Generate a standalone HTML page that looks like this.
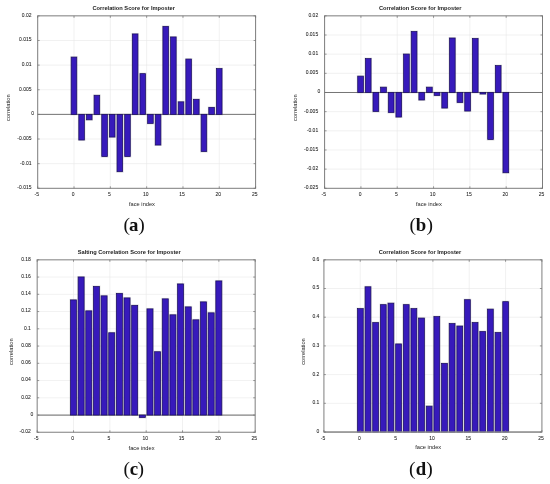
<!DOCTYPE html>
<html><head><meta charset="utf-8"><title>Correlation Score for Imposter</title>
<style>
html,body{margin:0;padding:0;background:#fff;}
svg{display:block}
.gr{stroke:#e8e8e8;stroke-width:0.6}
.bar{fill:#371abb;stroke:#170b5c;stroke-width:0.7}
.halo{fill:none;stroke:#777;stroke-opacity:0.25;stroke-width:1.9}
.zl{stroke:#666;stroke-width:0.9}
.box{fill:none;stroke:#7c7c7c;stroke-width:1}
.box.lt{stroke:#989898;stroke-width:1.25}
.zl.lt{stroke:#868686;stroke-width:1.25}
.tk{stroke:#707070;stroke-width:0.7}
text{font-family:"Liberation Sans",sans-serif;fill:#333}
.tl{font-size:5px;fill:#222;stroke:#222;stroke-width:0.06px}
.al{font-size:5.7px;fill:#222}
.tt{font-size:5.7px;font-weight:bold;fill:#222}
.cap{font-family:"Liberation Serif",serif;font-size:19.5px;fill:#111}
.cb{font-weight:bold;font-size:18.8px}
</style></head><body>
<svg width="550" height="484" viewBox="0 0 550 484">
<rect width="550" height="484" fill="#fff"/>
<g><line x1="74.02" y1="15.85" x2="74.02" y2="188.3" class="gr"/>
<line x1="110.33" y1="15.85" x2="110.33" y2="188.3" class="gr"/>
<line x1="146.65" y1="15.85" x2="146.65" y2="188.3" class="gr"/>
<line x1="182.97" y1="15.85" x2="182.97" y2="188.3" class="gr"/>
<line x1="219.28" y1="15.85" x2="219.28" y2="188.3" class="gr"/>
<line x1="37.7" y1="40.49" x2="255.6" y2="40.49" class="gr"/>
<line x1="37.7" y1="65.12" x2="255.6" y2="65.12" class="gr"/>
<line x1="37.7" y1="89.76" x2="255.6" y2="89.76" class="gr"/>
<line x1="37.7" y1="114.39" x2="255.6" y2="114.39" class="gr"/>
<line x1="37.7" y1="139.03" x2="255.6" y2="139.03" class="gr"/>
<line x1="37.7" y1="163.66" x2="255.6" y2="163.66" class="gr"/>
<rect x="71.17" y="57.10" width="5.60" height="57.30" class="halo"/>
<rect x="78.81" y="114.39" width="5.60" height="25.62" class="halo"/>
<rect x="86.46" y="114.39" width="5.60" height="5.42" class="halo"/>
<rect x="94.10" y="95.28" width="5.60" height="19.11" class="halo"/>
<rect x="101.75" y="114.39" width="5.60" height="42.23" class="halo"/>
<rect x="109.39" y="114.39" width="5.60" height="22.66" class="halo"/>
<rect x="117.04" y="114.39" width="5.60" height="57.30" class="halo"/>
<rect x="124.69" y="114.39" width="5.60" height="42.23" class="halo"/>
<rect x="132.33" y="33.94" width="5.60" height="80.45" class="halo"/>
<rect x="139.98" y="73.65" width="5.60" height="40.74" class="halo"/>
<rect x="147.62" y="114.39" width="5.60" height="9.07" class="halo"/>
<rect x="155.27" y="114.39" width="5.60" height="30.65" class="halo"/>
<rect x="162.91" y="26.40" width="5.60" height="87.99" class="halo"/>
<rect x="170.56" y="36.95" width="5.60" height="77.45" class="halo"/>
<rect x="178.21" y="101.84" width="5.60" height="12.56" class="halo"/>
<rect x="185.85" y="59.07" width="5.60" height="55.32" class="halo"/>
<rect x="193.50" y="99.32" width="5.60" height="15.07" class="halo"/>
<rect x="201.14" y="114.39" width="5.60" height="37.20" class="halo"/>
<rect x="208.79" y="107.35" width="5.60" height="7.04" class="halo"/>
<rect x="216.43" y="68.63" width="5.60" height="45.77" class="halo"/>
<line x1="37.7" y1="114.39" x2="255.6" y2="114.39" class="zl "/>
<rect x="71.17" y="57.10" width="5.60" height="57.30" class="bar"/>
<rect x="78.81" y="114.39" width="5.60" height="25.62" class="bar"/>
<rect x="86.46" y="114.39" width="5.60" height="5.42" class="bar"/>
<rect x="94.10" y="95.28" width="5.60" height="19.11" class="bar"/>
<rect x="101.75" y="114.39" width="5.60" height="42.23" class="bar"/>
<rect x="109.39" y="114.39" width="5.60" height="22.66" class="bar"/>
<rect x="117.04" y="114.39" width="5.60" height="57.30" class="bar"/>
<rect x="124.69" y="114.39" width="5.60" height="42.23" class="bar"/>
<rect x="132.33" y="33.94" width="5.60" height="80.45" class="bar"/>
<rect x="139.98" y="73.65" width="5.60" height="40.74" class="bar"/>
<rect x="147.62" y="114.39" width="5.60" height="9.07" class="bar"/>
<rect x="155.27" y="114.39" width="5.60" height="30.65" class="bar"/>
<rect x="162.91" y="26.40" width="5.60" height="87.99" class="bar"/>
<rect x="170.56" y="36.95" width="5.60" height="77.45" class="bar"/>
<rect x="178.21" y="101.84" width="5.60" height="12.56" class="bar"/>
<rect x="185.85" y="59.07" width="5.60" height="55.32" class="bar"/>
<rect x="193.50" y="99.32" width="5.60" height="15.07" class="bar"/>
<rect x="201.14" y="114.39" width="5.60" height="37.20" class="bar"/>
<rect x="208.79" y="107.35" width="5.60" height="7.04" class="bar"/>
<rect x="216.43" y="68.63" width="5.60" height="45.77" class="bar"/>
<rect x="37.7" y="15.85" width="217.90" height="172.45" class="box "/>
<line x1="37.70" y1="188.3" x2="37.70" y2="186.3" class="tk"/>
<line x1="37.70" y1="15.85" x2="37.70" y2="17.85" class="tk"/>
<text x="36.80" y="195.90" class="tl" text-anchor="middle">-5</text>
<line x1="74.02" y1="188.3" x2="74.02" y2="186.3" class="tk"/>
<line x1="74.02" y1="15.85" x2="74.02" y2="17.85" class="tk"/>
<text x="73.12" y="195.90" class="tl" text-anchor="middle">0</text>
<line x1="110.33" y1="188.3" x2="110.33" y2="186.3" class="tk"/>
<line x1="110.33" y1="15.85" x2="110.33" y2="17.85" class="tk"/>
<text x="109.43" y="195.90" class="tl" text-anchor="middle">5</text>
<line x1="146.65" y1="188.3" x2="146.65" y2="186.3" class="tk"/>
<line x1="146.65" y1="15.85" x2="146.65" y2="17.85" class="tk"/>
<text x="145.75" y="195.90" class="tl" text-anchor="middle">10</text>
<line x1="182.97" y1="188.3" x2="182.97" y2="186.3" class="tk"/>
<line x1="182.97" y1="15.85" x2="182.97" y2="17.85" class="tk"/>
<text x="182.07" y="195.90" class="tl" text-anchor="middle">15</text>
<line x1="219.28" y1="188.3" x2="219.28" y2="186.3" class="tk"/>
<line x1="219.28" y1="15.85" x2="219.28" y2="17.85" class="tk"/>
<text x="218.38" y="195.90" class="tl" text-anchor="middle">20</text>
<line x1="255.60" y1="188.3" x2="255.60" y2="186.3" class="tk"/>
<line x1="255.60" y1="15.85" x2="255.60" y2="17.85" class="tk"/>
<text x="254.70" y="195.90" class="tl" text-anchor="middle">25</text>
<line x1="37.7" y1="15.85" x2="39.7" y2="15.85" class="tk"/>
<line x1="255.6" y1="15.85" x2="253.6" y2="15.85" class="tk"/>
<text x="31.50" y="16.75" class="tl" text-anchor="end">0.02</text>
<line x1="37.7" y1="40.49" x2="39.7" y2="40.49" class="tk"/>
<line x1="255.6" y1="40.49" x2="253.6" y2="40.49" class="tk"/>
<text x="31.50" y="41.39" class="tl" text-anchor="end">0.015</text>
<line x1="37.7" y1="65.12" x2="39.7" y2="65.12" class="tk"/>
<line x1="255.6" y1="65.12" x2="253.6" y2="65.12" class="tk"/>
<text x="31.50" y="66.02" class="tl" text-anchor="end">0.01</text>
<line x1="37.7" y1="89.76" x2="39.7" y2="89.76" class="tk"/>
<line x1="255.6" y1="89.76" x2="253.6" y2="89.76" class="tk"/>
<text x="31.50" y="90.66" class="tl" text-anchor="end">0.005</text>
<line x1="37.7" y1="114.39" x2="39.7" y2="114.39" class="tk"/>
<line x1="255.6" y1="114.39" x2="253.6" y2="114.39" class="tk"/>
<text x="34.10" y="115.29" class="tl" text-anchor="end">0</text>
<line x1="37.7" y1="139.03" x2="39.7" y2="139.03" class="tk"/>
<line x1="255.6" y1="139.03" x2="253.6" y2="139.03" class="tk"/>
<text x="31.50" y="139.93" class="tl" text-anchor="end">-0.005</text>
<line x1="37.7" y1="163.66" x2="39.7" y2="163.66" class="tk"/>
<line x1="255.6" y1="163.66" x2="253.6" y2="163.66" class="tk"/>
<text x="31.50" y="164.56" class="tl" text-anchor="end">-0.01</text>
<line x1="37.7" y1="188.30" x2="39.7" y2="188.30" class="tk"/>
<line x1="255.6" y1="188.30" x2="253.6" y2="188.30" class="tk"/>
<text x="31.50" y="189.20" class="tl" text-anchor="end">-0.015</text>
<text x="133.7" y="9.95" class="tt" text-anchor="middle">Correlation Score for Imposter</text>
<text x="142.00" y="205.70" class="al" text-anchor="middle">face index</text>
<text transform="translate(9.70,107.67) rotate(-90)" class="al" text-anchor="middle">correlation</text>
<text y="230.80" class="cap"><tspan x="123.40">(</tspan><tspan class="cb" x="133.65" text-anchor="middle">a</tspan><tspan x="144.80" text-anchor="end">)</tspan></text></g>
<g><line x1="360.92" y1="15.85" x2="360.92" y2="188.3" class="gr"/>
<line x1="397.23" y1="15.85" x2="397.23" y2="188.3" class="gr"/>
<line x1="433.55" y1="15.85" x2="433.55" y2="188.3" class="gr"/>
<line x1="469.87" y1="15.85" x2="469.87" y2="188.3" class="gr"/>
<line x1="506.18" y1="15.85" x2="506.18" y2="188.3" class="gr"/>
<line x1="324.6" y1="35.01" x2="542.5" y2="35.01" class="gr"/>
<line x1="324.6" y1="54.17" x2="542.5" y2="54.17" class="gr"/>
<line x1="324.6" y1="73.33" x2="542.5" y2="73.33" class="gr"/>
<line x1="324.6" y1="92.49" x2="542.5" y2="92.49" class="gr"/>
<line x1="324.6" y1="111.66" x2="542.5" y2="111.66" class="gr"/>
<line x1="324.6" y1="130.82" x2="542.5" y2="130.82" class="gr"/>
<line x1="324.6" y1="149.98" x2="542.5" y2="149.98" class="gr"/>
<line x1="324.6" y1="169.14" x2="542.5" y2="169.14" class="gr"/>
<rect x="357.72" y="76.14" width="5.70" height="16.36" class="halo"/>
<rect x="365.36" y="58.59" width="5.70" height="33.91" class="halo"/>
<rect x="373.01" y="92.49" width="5.70" height="19.05" class="halo"/>
<rect x="380.65" y="87.18" width="5.70" height="5.32" class="halo"/>
<rect x="388.30" y="92.49" width="5.70" height="20.08" class="halo"/>
<rect x="395.94" y="92.49" width="5.70" height="24.56" class="halo"/>
<rect x="403.59" y="54.07" width="5.70" height="38.43" class="halo"/>
<rect x="411.24" y="31.49" width="5.70" height="61.00" class="halo"/>
<rect x="418.88" y="92.49" width="5.70" height="7.51" class="halo"/>
<rect x="426.53" y="87.18" width="5.70" height="5.32" class="halo"/>
<rect x="434.17" y="92.49" width="5.70" height="3.03" class="halo"/>
<rect x="441.82" y="92.49" width="5.70" height="15.56" class="halo"/>
<rect x="449.46" y="38.01" width="5.70" height="54.49" class="halo"/>
<rect x="457.11" y="92.49" width="5.70" height="10.04" class="halo"/>
<rect x="464.76" y="92.49" width="5.70" height="18.55" class="halo"/>
<rect x="472.40" y="38.51" width="5.70" height="53.99" class="halo"/>
<rect x="480.05" y="92.49" width="5.70" height="1.53" class="halo"/>
<rect x="487.69" y="92.49" width="5.70" height="47.14" class="halo"/>
<rect x="495.34" y="65.60" width="5.70" height="26.89" class="halo"/>
<rect x="502.98" y="92.49" width="5.70" height="80.25" class="halo"/>
<line x1="324.6" y1="92.49" x2="542.5" y2="92.49" class="zl "/>
<rect x="357.72" y="76.14" width="5.70" height="16.36" class="bar"/>
<rect x="365.36" y="58.59" width="5.70" height="33.91" class="bar"/>
<rect x="373.01" y="92.49" width="5.70" height="19.05" class="bar"/>
<rect x="380.65" y="87.18" width="5.70" height="5.32" class="bar"/>
<rect x="388.30" y="92.49" width="5.70" height="20.08" class="bar"/>
<rect x="395.94" y="92.49" width="5.70" height="24.56" class="bar"/>
<rect x="403.59" y="54.07" width="5.70" height="38.43" class="bar"/>
<rect x="411.24" y="31.49" width="5.70" height="61.00" class="bar"/>
<rect x="418.88" y="92.49" width="5.70" height="7.51" class="bar"/>
<rect x="426.53" y="87.18" width="5.70" height="5.32" class="bar"/>
<rect x="434.17" y="92.49" width="5.70" height="3.03" class="bar"/>
<rect x="441.82" y="92.49" width="5.70" height="15.56" class="bar"/>
<rect x="449.46" y="38.01" width="5.70" height="54.49" class="bar"/>
<rect x="457.11" y="92.49" width="5.70" height="10.04" class="bar"/>
<rect x="464.76" y="92.49" width="5.70" height="18.55" class="bar"/>
<rect x="472.40" y="38.51" width="5.70" height="53.99" class="bar"/>
<rect x="480.05" y="92.49" width="5.70" height="1.53" class="bar"/>
<rect x="487.69" y="92.49" width="5.70" height="47.14" class="bar"/>
<rect x="495.34" y="65.60" width="5.70" height="26.89" class="bar"/>
<rect x="502.98" y="92.49" width="5.70" height="80.25" class="bar"/>
<rect x="324.6" y="15.85" width="217.90" height="172.45" class="box "/>
<line x1="324.60" y1="188.3" x2="324.60" y2="186.3" class="tk"/>
<line x1="324.60" y1="15.85" x2="324.60" y2="17.85" class="tk"/>
<text x="323.70" y="195.90" class="tl" text-anchor="middle">-5</text>
<line x1="360.92" y1="188.3" x2="360.92" y2="186.3" class="tk"/>
<line x1="360.92" y1="15.85" x2="360.92" y2="17.85" class="tk"/>
<text x="360.02" y="195.90" class="tl" text-anchor="middle">0</text>
<line x1="397.23" y1="188.3" x2="397.23" y2="186.3" class="tk"/>
<line x1="397.23" y1="15.85" x2="397.23" y2="17.85" class="tk"/>
<text x="396.33" y="195.90" class="tl" text-anchor="middle">5</text>
<line x1="433.55" y1="188.3" x2="433.55" y2="186.3" class="tk"/>
<line x1="433.55" y1="15.85" x2="433.55" y2="17.85" class="tk"/>
<text x="432.65" y="195.90" class="tl" text-anchor="middle">10</text>
<line x1="469.87" y1="188.3" x2="469.87" y2="186.3" class="tk"/>
<line x1="469.87" y1="15.85" x2="469.87" y2="17.85" class="tk"/>
<text x="468.97" y="195.90" class="tl" text-anchor="middle">15</text>
<line x1="506.18" y1="188.3" x2="506.18" y2="186.3" class="tk"/>
<line x1="506.18" y1="15.85" x2="506.18" y2="17.85" class="tk"/>
<text x="505.28" y="195.90" class="tl" text-anchor="middle">20</text>
<line x1="542.50" y1="188.3" x2="542.50" y2="186.3" class="tk"/>
<line x1="542.50" y1="15.85" x2="542.50" y2="17.85" class="tk"/>
<text x="541.60" y="195.90" class="tl" text-anchor="middle">25</text>
<line x1="324.6" y1="15.85" x2="326.6" y2="15.85" class="tk"/>
<line x1="542.5" y1="15.85" x2="540.5" y2="15.85" class="tk"/>
<text x="318.20" y="16.75" class="tl" text-anchor="end">0.02</text>
<line x1="324.6" y1="35.01" x2="326.6" y2="35.01" class="tk"/>
<line x1="542.5" y1="35.01" x2="540.5" y2="35.01" class="tk"/>
<text x="318.20" y="35.91" class="tl" text-anchor="end">0.015</text>
<line x1="324.6" y1="54.17" x2="326.6" y2="54.17" class="tk"/>
<line x1="542.5" y1="54.17" x2="540.5" y2="54.17" class="tk"/>
<text x="318.20" y="55.07" class="tl" text-anchor="end">0.01</text>
<line x1="324.6" y1="73.33" x2="326.6" y2="73.33" class="tk"/>
<line x1="542.5" y1="73.33" x2="540.5" y2="73.33" class="tk"/>
<text x="318.20" y="74.23" class="tl" text-anchor="end">0.005</text>
<line x1="324.6" y1="92.49" x2="326.6" y2="92.49" class="tk"/>
<line x1="542.5" y1="92.49" x2="540.5" y2="92.49" class="tk"/>
<text x="320.40" y="93.39" class="tl" text-anchor="end">0</text>
<line x1="324.6" y1="111.66" x2="326.6" y2="111.66" class="tk"/>
<line x1="542.5" y1="111.66" x2="540.5" y2="111.66" class="tk"/>
<text x="318.20" y="112.56" class="tl" text-anchor="end">-0.005</text>
<line x1="324.6" y1="130.82" x2="326.6" y2="130.82" class="tk"/>
<line x1="542.5" y1="130.82" x2="540.5" y2="130.82" class="tk"/>
<text x="318.20" y="131.72" class="tl" text-anchor="end">-0.01</text>
<line x1="324.6" y1="149.98" x2="326.6" y2="149.98" class="tk"/>
<line x1="542.5" y1="149.98" x2="540.5" y2="149.98" class="tk"/>
<text x="318.20" y="150.88" class="tl" text-anchor="end">-0.015</text>
<line x1="324.6" y1="169.14" x2="326.6" y2="169.14" class="tk"/>
<line x1="542.5" y1="169.14" x2="540.5" y2="169.14" class="tk"/>
<text x="318.20" y="170.04" class="tl" text-anchor="end">-0.02</text>
<line x1="324.6" y1="188.30" x2="326.6" y2="188.30" class="tk"/>
<line x1="542.5" y1="188.30" x2="540.5" y2="188.30" class="tk"/>
<text x="318.20" y="189.20" class="tl" text-anchor="end">-0.025</text>
<text x="420.2" y="9.95" class="tt" text-anchor="middle">Correlation Score for Imposter</text>
<text x="428.90" y="205.70" class="al" text-anchor="middle">face index</text>
<text transform="translate(296.60,107.67) rotate(-90)" class="al" text-anchor="middle">correlation</text>
<text y="230.80" class="cap"><tspan x="409.40">(</tspan><tspan class="cb" x="421.00" text-anchor="middle">b</tspan><tspan x="432.90" text-anchor="end">)</tspan></text></g>
<g><line x1="73.53" y1="259.8" x2="73.53" y2="432.3" class="gr"/>
<line x1="109.87" y1="259.8" x2="109.87" y2="432.3" class="gr"/>
<line x1="146.20" y1="259.8" x2="146.20" y2="432.3" class="gr"/>
<line x1="182.53" y1="259.8" x2="182.53" y2="432.3" class="gr"/>
<line x1="218.87" y1="259.8" x2="218.87" y2="432.3" class="gr"/>
<line x1="37.2" y1="277.05" x2="255.2" y2="277.05" class="gr"/>
<line x1="37.2" y1="294.30" x2="255.2" y2="294.30" class="gr"/>
<line x1="37.2" y1="311.55" x2="255.2" y2="311.55" class="gr"/>
<line x1="37.2" y1="328.80" x2="255.2" y2="328.80" class="gr"/>
<line x1="37.2" y1="346.05" x2="255.2" y2="346.05" class="gr"/>
<line x1="37.2" y1="363.30" x2="255.2" y2="363.30" class="gr"/>
<line x1="37.2" y1="380.55" x2="255.2" y2="380.55" class="gr"/>
<line x1="37.2" y1="397.80" x2="255.2" y2="397.80" class="gr"/>
<line x1="37.2" y1="415.05" x2="255.2" y2="415.05" class="gr"/>
<rect x="70.48" y="299.91" width="6.00" height="115.14" class="halo"/>
<rect x="78.13" y="276.96" width="6.00" height="138.09" class="halo"/>
<rect x="85.78" y="310.86" width="6.00" height="104.19" class="halo"/>
<rect x="93.43" y="286.45" width="6.00" height="128.60" class="halo"/>
<rect x="101.08" y="295.85" width="6.00" height="119.20" class="halo"/>
<rect x="108.73" y="332.77" width="6.00" height="82.28" class="halo"/>
<rect x="116.38" y="293.44" width="6.00" height="121.61" class="halo"/>
<rect x="124.03" y="297.92" width="6.00" height="117.13" class="halo"/>
<rect x="131.68" y="305.34" width="6.00" height="109.71" class="halo"/>
<rect x="139.33" y="415.05" width="6.00" height="2.50" class="halo"/>
<rect x="146.97" y="308.88" width="6.00" height="106.17" class="halo"/>
<rect x="154.62" y="351.74" width="6.00" height="63.31" class="halo"/>
<rect x="162.27" y="298.87" width="6.00" height="116.18" class="halo"/>
<rect x="169.92" y="314.83" width="6.00" height="100.22" class="halo"/>
<rect x="177.57" y="283.95" width="6.00" height="131.10" class="halo"/>
<rect x="185.22" y="306.89" width="6.00" height="108.16" class="halo"/>
<rect x="192.87" y="319.83" width="6.00" height="95.22" class="halo"/>
<rect x="200.52" y="301.89" width="6.00" height="113.16" class="halo"/>
<rect x="208.17" y="312.84" width="6.00" height="102.21" class="halo"/>
<rect x="215.82" y="280.93" width="6.00" height="134.12" class="halo"/>
<line x1="37.2" y1="415.05" x2="255.2" y2="415.05" class="zl lt"/>
<rect x="70.48" y="299.91" width="6.00" height="115.14" class="bar"/>
<rect x="78.13" y="276.96" width="6.00" height="138.09" class="bar"/>
<rect x="85.78" y="310.86" width="6.00" height="104.19" class="bar"/>
<rect x="93.43" y="286.45" width="6.00" height="128.60" class="bar"/>
<rect x="101.08" y="295.85" width="6.00" height="119.20" class="bar"/>
<rect x="108.73" y="332.77" width="6.00" height="82.28" class="bar"/>
<rect x="116.38" y="293.44" width="6.00" height="121.61" class="bar"/>
<rect x="124.03" y="297.92" width="6.00" height="117.13" class="bar"/>
<rect x="131.68" y="305.34" width="6.00" height="109.71" class="bar"/>
<rect x="139.33" y="415.05" width="6.00" height="2.50" class="bar"/>
<rect x="146.97" y="308.88" width="6.00" height="106.17" class="bar"/>
<rect x="154.62" y="351.74" width="6.00" height="63.31" class="bar"/>
<rect x="162.27" y="298.87" width="6.00" height="116.18" class="bar"/>
<rect x="169.92" y="314.83" width="6.00" height="100.22" class="bar"/>
<rect x="177.57" y="283.95" width="6.00" height="131.10" class="bar"/>
<rect x="185.22" y="306.89" width="6.00" height="108.16" class="bar"/>
<rect x="192.87" y="319.83" width="6.00" height="95.22" class="bar"/>
<rect x="200.52" y="301.89" width="6.00" height="113.16" class="bar"/>
<rect x="208.17" y="312.84" width="6.00" height="102.21" class="bar"/>
<rect x="215.82" y="280.93" width="6.00" height="134.12" class="bar"/>
<rect x="37.2" y="259.8" width="218.00" height="172.50" class="box lt"/>
<line x1="37.20" y1="432.3" x2="37.20" y2="430.3" class="tk"/>
<line x1="37.20" y1="259.8" x2="37.20" y2="261.8" class="tk"/>
<text x="36.30" y="439.90" class="tl" text-anchor="middle">-5</text>
<line x1="73.53" y1="432.3" x2="73.53" y2="430.3" class="tk"/>
<line x1="73.53" y1="259.8" x2="73.53" y2="261.8" class="tk"/>
<text x="72.63" y="439.90" class="tl" text-anchor="middle">0</text>
<line x1="109.87" y1="432.3" x2="109.87" y2="430.3" class="tk"/>
<line x1="109.87" y1="259.8" x2="109.87" y2="261.8" class="tk"/>
<text x="108.97" y="439.90" class="tl" text-anchor="middle">5</text>
<line x1="146.20" y1="432.3" x2="146.20" y2="430.3" class="tk"/>
<line x1="146.20" y1="259.8" x2="146.20" y2="261.8" class="tk"/>
<text x="145.30" y="439.90" class="tl" text-anchor="middle">10</text>
<line x1="182.53" y1="432.3" x2="182.53" y2="430.3" class="tk"/>
<line x1="182.53" y1="259.8" x2="182.53" y2="261.8" class="tk"/>
<text x="181.63" y="439.90" class="tl" text-anchor="middle">15</text>
<line x1="218.87" y1="432.3" x2="218.87" y2="430.3" class="tk"/>
<line x1="218.87" y1="259.8" x2="218.87" y2="261.8" class="tk"/>
<text x="217.97" y="439.90" class="tl" text-anchor="middle">20</text>
<line x1="255.20" y1="432.3" x2="255.20" y2="430.3" class="tk"/>
<line x1="255.20" y1="259.8" x2="255.20" y2="261.8" class="tk"/>
<text x="254.30" y="439.90" class="tl" text-anchor="middle">25</text>
<line x1="37.2" y1="259.80" x2="39.2" y2="259.80" class="tk"/>
<line x1="255.2" y1="259.80" x2="253.2" y2="259.80" class="tk"/>
<text x="30.90" y="260.70" class="tl" text-anchor="end">0.18</text>
<line x1="37.2" y1="277.05" x2="39.2" y2="277.05" class="tk"/>
<line x1="255.2" y1="277.05" x2="253.2" y2="277.05" class="tk"/>
<text x="30.90" y="277.95" class="tl" text-anchor="end">0.16</text>
<line x1="37.2" y1="294.30" x2="39.2" y2="294.30" class="tk"/>
<line x1="255.2" y1="294.30" x2="253.2" y2="294.30" class="tk"/>
<text x="30.90" y="295.20" class="tl" text-anchor="end">0.14</text>
<line x1="37.2" y1="311.55" x2="39.2" y2="311.55" class="tk"/>
<line x1="255.2" y1="311.55" x2="253.2" y2="311.55" class="tk"/>
<text x="30.90" y="312.45" class="tl" text-anchor="end">0.12</text>
<line x1="37.2" y1="328.80" x2="39.2" y2="328.80" class="tk"/>
<line x1="255.2" y1="328.80" x2="253.2" y2="328.80" class="tk"/>
<text x="30.90" y="329.70" class="tl" text-anchor="end">0.1</text>
<line x1="37.2" y1="346.05" x2="39.2" y2="346.05" class="tk"/>
<line x1="255.2" y1="346.05" x2="253.2" y2="346.05" class="tk"/>
<text x="30.90" y="346.95" class="tl" text-anchor="end">0.08</text>
<line x1="37.2" y1="363.30" x2="39.2" y2="363.30" class="tk"/>
<line x1="255.2" y1="363.30" x2="253.2" y2="363.30" class="tk"/>
<text x="30.90" y="364.20" class="tl" text-anchor="end">0.06</text>
<line x1="37.2" y1="380.55" x2="39.2" y2="380.55" class="tk"/>
<line x1="255.2" y1="380.55" x2="253.2" y2="380.55" class="tk"/>
<text x="30.90" y="381.45" class="tl" text-anchor="end">0.04</text>
<line x1="37.2" y1="397.80" x2="39.2" y2="397.80" class="tk"/>
<line x1="255.2" y1="397.80" x2="253.2" y2="397.80" class="tk"/>
<text x="30.90" y="398.70" class="tl" text-anchor="end">0.02</text>
<line x1="37.2" y1="415.05" x2="39.2" y2="415.05" class="tk"/>
<line x1="255.2" y1="415.05" x2="253.2" y2="415.05" class="tk"/>
<text x="33.30" y="415.95" class="tl" text-anchor="end">0</text>
<line x1="37.2" y1="432.30" x2="39.2" y2="432.30" class="tk"/>
<line x1="255.2" y1="432.30" x2="253.2" y2="432.30" class="tk"/>
<text x="30.90" y="433.20" class="tl" text-anchor="end">-0.02</text>
<text x="129.2" y="253.90" class="tt" text-anchor="middle">Salting Correlation Score for Imposter</text>
<text x="141.55" y="449.70" class="al" text-anchor="middle">face index</text>
<text transform="translate(12.80,351.65) rotate(-90)" class="al" text-anchor="middle">correlation</text>
<text y="474.80" class="cap"><tspan x="123.60">(</tspan><tspan class="cb" x="133.80" text-anchor="middle">c</tspan><tspan x="144.00" text-anchor="end">)</tspan></text></g>
<g><line x1="360.23" y1="259.8" x2="360.23" y2="432.0" class="gr"/>
<line x1="396.57" y1="259.8" x2="396.57" y2="432.0" class="gr"/>
<line x1="432.90" y1="259.8" x2="432.90" y2="432.0" class="gr"/>
<line x1="469.23" y1="259.8" x2="469.23" y2="432.0" class="gr"/>
<line x1="505.57" y1="259.8" x2="505.57" y2="432.0" class="gr"/>
<line x1="323.9" y1="288.50" x2="541.9" y2="288.50" class="gr"/>
<line x1="323.9" y1="317.20" x2="541.9" y2="317.20" class="gr"/>
<line x1="323.9" y1="345.90" x2="541.9" y2="345.90" class="gr"/>
<line x1="323.9" y1="374.60" x2="541.9" y2="374.60" class="gr"/>
<line x1="323.9" y1="403.30" x2="541.9" y2="403.30" class="gr"/>
<rect x="357.43" y="308.65" width="5.80" height="123.35" class="halo"/>
<rect x="365.08" y="286.78" width="5.80" height="145.22" class="halo"/>
<rect x="372.73" y="322.57" width="5.80" height="109.43" class="halo"/>
<rect x="380.38" y="304.66" width="5.80" height="127.34" class="halo"/>
<rect x="388.03" y="303.17" width="5.80" height="128.83" class="halo"/>
<rect x="395.68" y="343.95" width="5.80" height="88.05" class="halo"/>
<rect x="403.33" y="304.66" width="5.80" height="127.34" class="halo"/>
<rect x="410.98" y="308.65" width="5.80" height="123.35" class="halo"/>
<rect x="418.63" y="318.09" width="5.80" height="113.91" class="halo"/>
<rect x="426.28" y="406.14" width="5.80" height="25.86" class="halo"/>
<rect x="433.92" y="316.60" width="5.80" height="115.40" class="halo"/>
<rect x="441.57" y="363.35" width="5.80" height="68.65" class="halo"/>
<rect x="449.22" y="323.57" width="5.80" height="108.43" class="halo"/>
<rect x="456.87" y="326.04" width="5.80" height="105.96" class="halo"/>
<rect x="464.52" y="299.69" width="5.80" height="132.31" class="halo"/>
<rect x="472.17" y="322.57" width="5.80" height="109.43" class="halo"/>
<rect x="479.82" y="331.52" width="5.80" height="100.48" class="halo"/>
<rect x="487.47" y="309.14" width="5.80" height="122.86" class="halo"/>
<rect x="495.12" y="332.53" width="5.80" height="99.47" class="halo"/>
<rect x="502.77" y="301.67" width="5.80" height="130.33" class="halo"/>
<line x1="323.9" y1="432.00" x2="541.9" y2="432.00" class="zl lt"/>
<rect x="357.43" y="308.65" width="5.80" height="123.35" class="bar"/>
<rect x="365.08" y="286.78" width="5.80" height="145.22" class="bar"/>
<rect x="372.73" y="322.57" width="5.80" height="109.43" class="bar"/>
<rect x="380.38" y="304.66" width="5.80" height="127.34" class="bar"/>
<rect x="388.03" y="303.17" width="5.80" height="128.83" class="bar"/>
<rect x="395.68" y="343.95" width="5.80" height="88.05" class="bar"/>
<rect x="403.33" y="304.66" width="5.80" height="127.34" class="bar"/>
<rect x="410.98" y="308.65" width="5.80" height="123.35" class="bar"/>
<rect x="418.63" y="318.09" width="5.80" height="113.91" class="bar"/>
<rect x="426.28" y="406.14" width="5.80" height="25.86" class="bar"/>
<rect x="433.92" y="316.60" width="5.80" height="115.40" class="bar"/>
<rect x="441.57" y="363.35" width="5.80" height="68.65" class="bar"/>
<rect x="449.22" y="323.57" width="5.80" height="108.43" class="bar"/>
<rect x="456.87" y="326.04" width="5.80" height="105.96" class="bar"/>
<rect x="464.52" y="299.69" width="5.80" height="132.31" class="bar"/>
<rect x="472.17" y="322.57" width="5.80" height="109.43" class="bar"/>
<rect x="479.82" y="331.52" width="5.80" height="100.48" class="bar"/>
<rect x="487.47" y="309.14" width="5.80" height="122.86" class="bar"/>
<rect x="495.12" y="332.53" width="5.80" height="99.47" class="bar"/>
<rect x="502.77" y="301.67" width="5.80" height="130.33" class="bar"/>
<rect x="323.9" y="259.8" width="218.00" height="172.20" class="box lt"/>
<line x1="323.90" y1="432.0" x2="323.90" y2="430.0" class="tk"/>
<line x1="323.90" y1="259.8" x2="323.90" y2="261.8" class="tk"/>
<text x="323.00" y="439.60" class="tl" text-anchor="middle">-5</text>
<line x1="360.23" y1="432.0" x2="360.23" y2="430.0" class="tk"/>
<line x1="360.23" y1="259.8" x2="360.23" y2="261.8" class="tk"/>
<text x="359.33" y="439.60" class="tl" text-anchor="middle">0</text>
<line x1="396.57" y1="432.0" x2="396.57" y2="430.0" class="tk"/>
<line x1="396.57" y1="259.8" x2="396.57" y2="261.8" class="tk"/>
<text x="395.67" y="439.60" class="tl" text-anchor="middle">5</text>
<line x1="432.90" y1="432.0" x2="432.90" y2="430.0" class="tk"/>
<line x1="432.90" y1="259.8" x2="432.90" y2="261.8" class="tk"/>
<text x="432.00" y="439.60" class="tl" text-anchor="middle">10</text>
<line x1="469.23" y1="432.0" x2="469.23" y2="430.0" class="tk"/>
<line x1="469.23" y1="259.8" x2="469.23" y2="261.8" class="tk"/>
<text x="468.33" y="439.60" class="tl" text-anchor="middle">15</text>
<line x1="505.57" y1="432.0" x2="505.57" y2="430.0" class="tk"/>
<line x1="505.57" y1="259.8" x2="505.57" y2="261.8" class="tk"/>
<text x="504.67" y="439.60" class="tl" text-anchor="middle">20</text>
<line x1="541.90" y1="432.0" x2="541.90" y2="430.0" class="tk"/>
<line x1="541.90" y1="259.8" x2="541.90" y2="261.8" class="tk"/>
<text x="541.00" y="439.60" class="tl" text-anchor="middle">25</text>
<line x1="323.9" y1="259.80" x2="325.9" y2="259.80" class="tk"/>
<line x1="541.9" y1="259.80" x2="539.9" y2="259.80" class="tk"/>
<text x="319.40" y="260.70" class="tl" text-anchor="end">0.6</text>
<line x1="323.9" y1="288.50" x2="325.9" y2="288.50" class="tk"/>
<line x1="541.9" y1="288.50" x2="539.9" y2="288.50" class="tk"/>
<text x="319.40" y="289.40" class="tl" text-anchor="end">0.5</text>
<line x1="323.9" y1="317.20" x2="325.9" y2="317.20" class="tk"/>
<line x1="541.9" y1="317.20" x2="539.9" y2="317.20" class="tk"/>
<text x="319.40" y="318.10" class="tl" text-anchor="end">0.4</text>
<line x1="323.9" y1="345.90" x2="325.9" y2="345.90" class="tk"/>
<line x1="541.9" y1="345.90" x2="539.9" y2="345.90" class="tk"/>
<text x="319.40" y="346.80" class="tl" text-anchor="end">0.3</text>
<line x1="323.9" y1="374.60" x2="325.9" y2="374.60" class="tk"/>
<line x1="541.9" y1="374.60" x2="539.9" y2="374.60" class="tk"/>
<text x="319.40" y="375.50" class="tl" text-anchor="end">0.2</text>
<line x1="323.9" y1="403.30" x2="325.9" y2="403.30" class="tk"/>
<line x1="541.9" y1="403.30" x2="539.9" y2="403.30" class="tk"/>
<text x="319.40" y="404.20" class="tl" text-anchor="end">0.1</text>
<line x1="323.9" y1="432.00" x2="325.9" y2="432.00" class="tk"/>
<line x1="541.9" y1="432.00" x2="539.9" y2="432.00" class="tk"/>
<text x="319.40" y="432.90" class="tl" text-anchor="end">0</text>
<text x="420" y="253.90" class="tt" text-anchor="middle">Correlation Score for Imposter</text>
<text x="428.25" y="449.40" class="al" text-anchor="middle">face index</text>
<text transform="translate(305.20,351.50) rotate(-90)" class="al" text-anchor="middle">correlation</text>
<text y="474.50" class="cap"><tspan x="409.10">(</tspan><tspan class="cb" x="421.00" text-anchor="middle">d</tspan><tspan x="432.70" text-anchor="end">)</tspan></text></g>
</svg>
</body></html>
